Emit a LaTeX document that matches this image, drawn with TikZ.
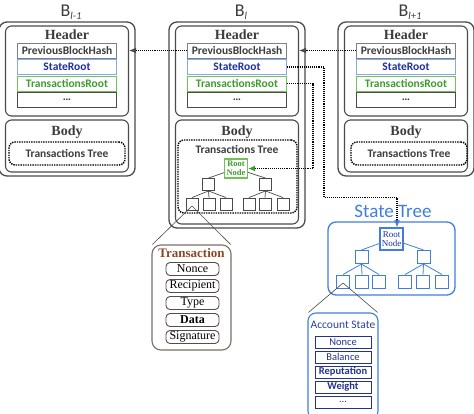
\documentclass[tikz,border=0pt]{standalone}
\usepackage{fontspec}
\setmainfont{Liberation Serif}
\setsansfont{Carlito}
\usetikzlibrary{arrows.meta}

\definecolor{blockgray}{HTML}{4A4A4A}
\definecolor{fieldgray}{HTML}{808080}
\definecolor{fieldtext}{HTML}{3C3C3C}
\definecolor{stateblue}{HTML}{3F7DE2}
\definecolor{statetext}{HTML}{1F2F9E}
\definecolor{stateline}{HTML}{86ABEA}
\definecolor{txgreen}{HTML}{3E9B2F}
\definecolor{txline}{HTML}{72C257}
\definecolor{acctext}{HTML}{24328F}
\definecolor{txbrown}{HTML}{8B4626}
\definecolor{txframe}{HTML}{7A6E66}

\tikzset{
  outerbox/.style={draw=blockgray, line width=1.3pt, rounded corners=8pt},
  innerbox/.style={draw=blockgray, line width=1.1pt, rounded corners=6pt},
  headlbl/.style={font=\rmfamily\bfseries\fontsize{14}{15}\selectfont, text=fieldtext, inner sep=0pt},
  field/.style={draw, line width=0.9pt, minimum width=99pt, minimum height=15pt, inner sep=0pt,
    font=\sffamily\bfseries\fontsize{11.5}{12}\selectfont},
  ttbox/.style={draw=black, densely dotted, line width=1.4pt, rounded corners=6pt},
  ttlbl/.style={font=\sffamily\bfseries\fontsize{11.5}{12}\selectfont, text=fieldtext, inner sep=0pt},
  tnode/.style={draw=blockgray, line width=0.9pt, minimum size=12pt, inner sep=0pt},
  snode/.style={draw=stateblue, line width=1pt, minimum size=13pt, inner sep=0pt},
  tedge/.style={draw=blockgray, line width=0.7pt},
  sedge/.style={draw=stateblue, line width=0.8pt},
  link/.style={densely dotted, line width=1.1pt},
  tip/.style={-{Latex[length=7pt, width=6pt, color=#1]}},
  zoomline/.style={draw=blockgray, line width=0.6pt},
  txitem/.style={draw=txframe!70!black, line width=0.9pt, rounded corners=4pt, minimum width=53pt,
    minimum height=13pt, inner sep=0pt, font=\rmfamily\fontsize{12}{12}\selectfont},
  acitem/.style={draw=acctext, line width=0.9pt, minimum width=56pt, minimum height=12pt, inner sep=0pt,
    text=acctext, font=\sffamily\fontsize{10.5}{11}\selectfont}
}

\begin{document}
\begin{tikzpicture}[x=1pt, y=-1pt]
\useasboundingbox (0,0) rectangle (474,413);

% blocks
\foreach \cx/\nm/\sub/\bb in {67/p/{l-1}/172, 237/c/l/224, 406/n/{l+1}/172} {
  \draw[outerbox] (\cx-68,22) rectangle (\cx+68,\bb+4);
  \node[font=\sffamily\fontsize{18}{19}\selectfont, text=fieldtext, inner sep=0pt] (\nm-title) at (\cx+4,12)
    {B\raisebox{-2.5pt}{\fontsize{10.5}{11}\selectfont\itshape\sub}};
  \node[innerbox, minimum width=123pt, minimum height=90pt] (\nm-hdr) at (\cx,71) {};
  \node[headlbl] (\nm-hdrlbl) at (\cx,34.5) {Header};
  \node[field, draw=fieldgray, text=fieldtext] (\nm-prev) at (\cx,50.5) {PreviousBlockHash};
  \node[field, draw=stateline, text=statetext] (\nm-state) at (\cx,67) {StateRoot};
  \node[field, draw=txline, text=txgreen] (\nm-tx) at (\cx,83.5) {TransactionsRoot};
  \node[field, draw=blockgray, text=fieldtext] (\nm-more) at (\cx,100) {\ldots};
  \draw[innerbox] (\cx-61.5,120) rectangle (\cx+61.5,\bb);
  \node[headlbl] (\nm-bodylbl) at (\cx,132) {Body};
}
\node[ttbox, minimum width=116pt, minimum height=23pt] (p-tt) at (67,153.5) {};
\node[ttlbl] (p-ttlbl) at (67,153.5) {Transactions Tree};
\node[ttbox, minimum width=116pt, minimum height=23pt] (n-tt) at (409,153.5) {};
\node[ttlbl] (n-ttlbl) at (409,153.5) {Transactions Tree};
\node[ttbox, minimum width=119pt, minimum height=73pt] (c-tt) at (237.5,176.5) {};
\node[ttlbl] (c-ttlbl) at (237,149) {Transactions Tree};

% transactions tree
\node[draw=txline, line width=1.2pt, fill=white, minimum width=23pt, minimum height=19pt, inner sep=0pt, align=center,
  text=txgreen, font=\rmfamily\bfseries\fontsize{8.5}{8.5}\selectfont] (t-root) at (236,168.5) {Root\\Node};
\node[tnode] (t-a) at (208.5,184.5) {};
\node[tnode] (t-b) at (265.5,184.5) {};
\foreach \x/\n in {192/1, 209/2, 226/3, 249/4, 265/5, 283/6}
  \node[tnode] (t-\n) at (\x,204) {};
\draw[tedge] (t-root) -- (t-a.north);
\draw[tedge] (t-root) -- (t-b.north);
\foreach \n in {1,2,3} \draw[tedge] (t-a.south) -- (t-\n.north);
\foreach \n in {4,5,6} \draw[tedge] (t-b.south) -- (t-\n.north);

% state tree
\node[font=\sffamily\fontsize{19}{20}\selectfont, text=stateblue, inner sep=0pt] (st-title) at (393,211) {State Tree};
\node[draw=stateblue, line width=1.3pt, rounded corners=8pt, minimum width=127pt, minimum height=73pt] (st-box) at (391.5,258.5) {};
\node[draw=stateblue, line width=1.1pt, fill=white, minimum width=23pt, minimum height=22pt, inner sep=0pt, align=center,
  text=statetext, font=\rmfamily\fontsize{9}{9.5}\selectfont] (s-root) at (391.5,239) {Root\\Node};
\node[snode] (s-a) at (361.5,257) {};
\node[snode] (s-b) at (423.5,257) {};
\foreach \x/\n in {343/1, 362/2, 379/3, 405/4, 423/5, 442/6}
  \node[snode] (s-\n) at (\x,281.5) {};
\draw[sedge] (s-root) -- (s-a.north);
\draw[sedge] (s-root) -- (s-b.north);
\foreach \n in {1,2,3} \draw[sedge] (s-a.south) -- (s-\n.north);
\foreach \n in {4,5,6} \draw[sedge] (s-b.south) -- (s-\n.north);

% links between blocks and roots
\draw[link, tip=blockgray] (c-prev.west) -- (p-hdr.east |- c-prev.west);
\draw[link, tip=blockgray] (n-prev.west) -- (c-hdr.east |- n-prev.west);
\draw[link, tip=stateblue] (c-state.east) -- (324,67)
  |- ([xshift=5.5pt, yshift=30pt]s-root.north) -- ([xshift=5.5pt]s-root.north);
\draw[link, tip=txgreen] (c-tx.east) -- (313,83.5) |- (t-root.east);

% transaction
\node[draw=txframe, line width=1.1pt, rounded corners=9pt, minimum width=79pt, minimum height=105pt] (tx) at (191.5,297.5) {};
\draw[zoomline] ([yshift=-2pt]t-1.center) -- ([xshift=1pt]tx.north west);
\draw[zoomline] ([yshift=-2pt]t-1.center) -- ([xshift=-1pt]tx.north east);
\node[font=\rmfamily\bfseries\fontsize{13}{14}\selectfont, text=txbrown, inner sep=0pt] (tx-title) at (191.5,253) {Transaction};
\foreach \t/\y [count=\i] in {Nonce/269, Recipient/286, Type/303, \textbf{Data}/320, Signature/337}
  \node[txitem] (tx-\i) at (192.5,\y) {\t};

% account state
\node[draw=stateblue, line width=1.1pt, rounded corners=8pt, minimum width=70pt, minimum height=106pt] (ac) at (343,366) {};
\draw[zoomline] ([yshift=-1.5pt]s-1.center) -- ([xshift=1pt]ac.north west);
\draw[zoomline] ([yshift=-1.5pt]s-1.center) -- ([xshift=-1pt]ac.north east);
\node[font=\sffamily\fontsize{11.5}{12}\selectfont, text=acctext!80!stateblue, inner sep=0pt] (ac-title) at (343,325) {Account State};
\foreach \t/\y [count=\i] in {Nonce/342, Balance/357, \textbf{Reputation}/372, \textbf{Weight}/387, \ldots/402}
  \node[acitem] (ac-\i) at (343,\y) {\t};
\end{tikzpicture}
\end{document}
